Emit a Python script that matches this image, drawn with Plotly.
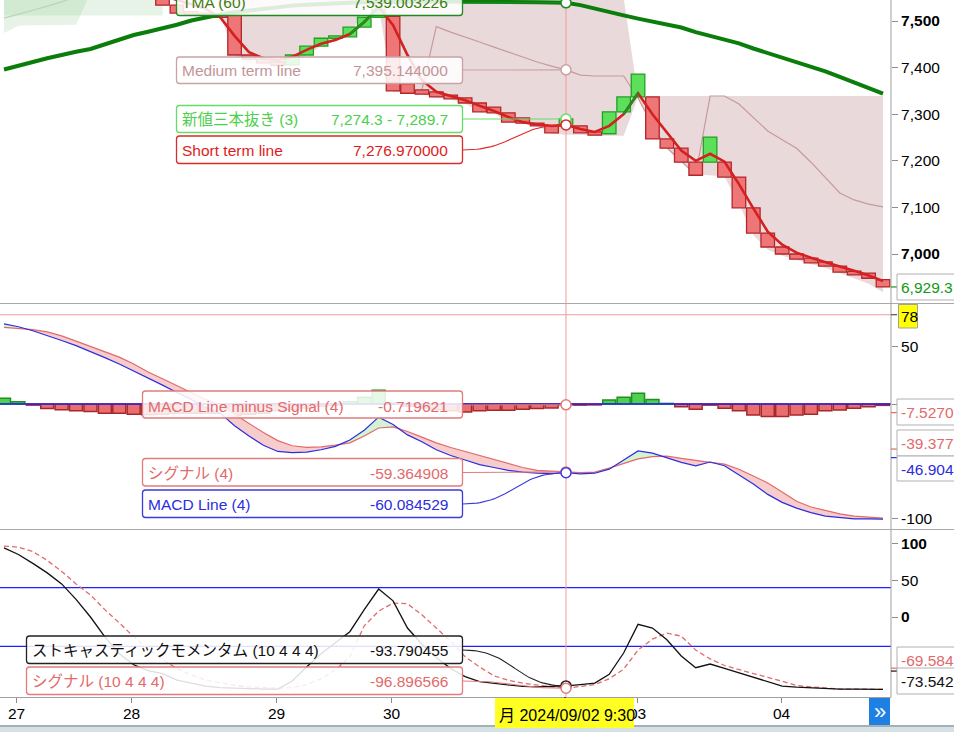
import numpy as np
import plotly.graph_objects as go

# ---------------- data ----------------
bar_index = list(range(62))
cursor_index = 39

x_tick_vals = [0.88, 8.85, 18.9, 26.9, 34.93, 43.95, 53.97]
x_tick_text = ["27", "28", "29", "30", "9月", "03", "04"]
cursor_label = "月 2024/09/02 9:30"

price_ticks = [7000, 7100, 7200, 7300, 7400, 7500]
price_tick_text = ["<b>7,000</b>", "7,100", "7,200", "7,300", "7,400", "<b>7,500</b>"]
macd_ticks = [-100, 0, 50]
macd_tick_text = ["-100", "<b>0</b>", "50"]
stoch_ticks = [0, 50, 100]
stoch_tick_text = ["<b>0</b>", "50", "<b>100</b>"]

# 新値三本抜き boxes (open -> close)
tlb_open = [7570, 7585, 7598, 7612, 7625, 7640, 7625, 7610, 7598, 7585,
            7572, 7560, 7534, 7520, 7517, 7514, 7512, 7427, 7418, 7412,
            7406, 7427, 7446, 7463, 7466, 7487, 7508, 7510, 7365, 7352,
            7348, 7341, 7335, 7324, 7315, 7303, 7292, 7281, 7275, 7274.3,
            7275, 7262, 7258, 7305, 7337, 7337, 7247, 7227, 7197, 7197,
            7197, 7165, 7099, 7045, 7015, 7000, 6991, 6983, 6974, 6963,
            6959, 6945]
tlb_close = [7585, 7598, 7612, 7625, 7640, 7652, 7610, 7598, 7585, 7572,
             7560, 7534, 7517, 7514, 7512, 7508, 7427, 7418, 7410, 7405,
             7427, 7446, 7463, 7468, 7487, 7508, 7525, 7350, 7345, 7343,
             7337, 7333, 7324, 7305, 7303, 7283, 7281, 7275, 7260, 7289.7,
             7260, 7255, 7305, 7337, 7386, 7247, 7227, 7197, 7169, 7251,
             7165, 7099, 7045, 7015, 7000, 6989, 6981, 6974, 6961, 6955,
             6948, 6929.3]

short_term_line = [7650, 7648, 7645, 7640, 7632, 7625, 7615, 7605, 7592, 7580,
                   7568, 7556, 7545, 7536, 7526, 7508, 7468, 7433, 7420, 7416,
                   7423, 7438, 7451, 7459, 7472, 7498, 7530, 7491, 7427, 7373,
                   7348, 7339, 7330, 7318, 7307, 7294, 7283, 7278, 7275, 7276.97,
                   7268, 7262, 7275, 7300, 7345, 7300, 7260, 7222, 7200, 7215,
                   7198, 7150, 7098, 7048, 7020, 7003, 6992, 6982, 6973, 6964,
                   6954, 6942]
short_term_up_from = [24, 43]
short_term_up_to = [26, 44]

tma_60 = [7396, 7403, 7412, 7420, 7428, 7434, 7440, 7450, 7459, 7470,
          7477, 7484, 7492, 7501, 7508, 7514, 7519, 7523, 7527, 7530,
          7533, 7535, 7537, 7538, 7539, 7540, 7541, 7541, 7542, 7542,
          7542, 7542, 7542, 7542, 7541, 7541, 7540, 7540, 7539.5, 7539.003226,
          7534, 7526, 7519, 7512, 7505, 7499, 7492, 7486, 7476, 7468,
          7460, 7452, 7441, 7431, 7422, 7413, 7402, 7392, 7380, 7368,
          7356, 7344]

medium_term_line = [7506, 7514, 7523, 7532, 7541, 7552, None, None, None, None,
                    None, None, None, None, None, None, None, None, None, None,
                    None, None, None, None, None, None, None, None, None, 7352,
                    7488, 7476, 7466, 7455, 7444, 7433, 7423, 7412, 7403, 7395.144,
                    7384, 7382, 7382, 7382, 7335, 7275, 7228, 7200, 7170, 7339,
                    7339, 7322, 7292, 7264, 7245, 7227, 7197, 7163, 7131, 7116,
                    7107, 7101]
medium_up_last = 5

green_band_index = [0, 1, 2, 3, 4, 5, 6, 7, 8, 9, 10, 11]
green_band_upper = [7600, 7600, 7600, 7600, 7600, 7600, 7600, 7600, 7600, 7600, 7600, 7600]
green_band_lower_a = [7512, 7512, 7512, 7512, 7512, 7512, 7512, 7512, 7512, 7512, 7512, 7512]
green_band_index_b = [0, 1, 2, 3, 4, 5, 6]
green_band_upper_b = [7600, 7600, 7600, 7600, 7600, 7600, 7600]
green_band_lower_b = [7474, 7490, 7491, 7491, 7491, 7492, 7560]

pink_band_index = list(range(14, 62))
pink_band_upper = [7600, 7600, 7600, 7600, 7600, 7600, 7600, 7600, 7600, 7600,
                   7600, 7600, 7600, 7600, 7600, 7600, 7600, 7600, 7600, 7600,
                   7600, 7600, 7600, 7600, 7600, 7600, 7600, 7600, 7600, 7550,
                   7339, 7339, 7339, 7339, 7339, 7339, 7339, 7339, 7339, 7339,
                   7339, 7339, 7339, 7339, 7339, 7339, 7339, 7339]
pink_band_lower = [7600, 7512, 7427, 7410, 7404, 7402, 7404, 7427, 7446, 7463,
                   7466, 7530, 7530, 7348, 7345, 7343, 7336, 7332, 7323, 7304,
                   7302, 7282, 7280, 7274, 7258, 7256, 7256, 7254, 7254, 7254,
                   7337, 7275, 7228, 7200, 7170, 7169, 7166, 7108, 7041, 7009,
                   6996, 6987, 6979, 6970, 6959, 6948, 6936, 6918]

macd_line = [70, 67.5, 64, 60, 55.5, 51, 46, 40.5, 35, 29,
             23, 16.5, 10, 4, -3, -8, -19, -28, -36, -41.5,
             -42.5, -42, -40, -37, -31.5, -23, -11.5, -18, -27, -33,
             -40, -45, -49, -53, -55.5, -58, -59.5, -60.5, -60.8, -60.084529,
             -61, -60.5, -57, -49, -41, -43, -47, -51, -54, -50.7,
             -54, -62, -70, -79, -86, -91, -95, -98, -99.5, -100.5,
             -100.5, -100.7]
macd_signal = [67, 66, 65, 63, 59.5, 55, 50.5, 46, 41, 35,
               28, 22, 16, 10, 4, -1, -9, -17, -25, -32,
               -36.5, -38, -37.5, -36, -34, -28, -21, -20, -24, -29,
               -34, -38, -41.5, -45, -49, -52.5, -55.5, -58, -59, -59.364908,
               -60, -59.5, -56, -52, -48, -46, -45.5, -47.5, -49.5, -51,
               -52.5, -57, -63, -69, -77, -85, -90, -93, -96, -98,
               -99, -99.7]
macd_hist = [5, 2, -1, -4, -5, -6, -6.5, -8, -8, -9,
             -9.5, -9, -8, -8, -8, -8, -10, -9, -8, -6,
             -5, -3.5, -2, -1, 2, 6, 12, 1, -2, -3.5,
             -5, -6, -7, -6, -5.5, -5.5, -4.5, -4, -3.5, -0.719621,
             -1, -0.8, 3.5, 6, 9.5, 4, 0.5, -2.3, -4.5, -1,
             -3.8, -6, -9.6, -11, -11, -9.6, -9, -6, -5.2, -3.8,
             -2.3, -1.2]
macd_crosshair_value = 78

stoch_momentum = [94, 85, 73, 60, 45, 24, 0, -27, -50, -65,
                  -73, -77, -86, -90, -94, -96, -97, -98, -98, -98,
                  -87, -68, -50, -35, -20, 10, 38, 22, -15, -37,
                  -55, -70, -81, -88, -90, -93, -94.5, -95, -94.5, -93.790455,
                  -92, -90, -78, -49, -10, -15, -31, -53, -69, -64,
                  -70, -76, -83, -89, -94, -95.5, -96.5, -97.5, -98, -98,
                  -98.5, -98.5]
stoch_signal = [96.5, 95, 89, 77, 62, 45, 30, 10, -8, -27,
                -44, -58, -70, -79, -86, -90, -93, -95, -96, -97,
                -96, -92, -84, -72, -54, -12, 8, 19, 18, 3,
                -15, -33, -54, -68, -80, -86, -90, -93, -95, -96.896566,
                -94, -92, -84, -71, -45, -30, -22, -26, -45, -57,
                -66, -72, -77, -82, -88, -93, -95, -97, -98, -98,
                -98.5, -98.5]
stoch_levels = [40, -40]

macd_side_text = ["-7.5270", "-39.377", "-46.904"]
macd_side_values = [-7.5270, -39.377, -46.904]
stoch_side_text = ["-69.584", "-73.542"]
stoch_side_values = [-69.584, -73.542]

# ---------------- geometry ----------------
W, H = 954, 732
PW, PH = 891, 697
XR = (-0.2776, 61.554)
PANEL_PX = {'y': (0, 303), 'y2': (304, 529), 'y3': (530, 697)}
PANEL_RANGE = {'y': (7545.06, 6894.85), 'y2': (87.41, -109.27), 'y3': (118.37, -108.84)}
FONT = "Liberation Sans, Arial, Noto Sans CJK JP, sans-serif"
JFONT = "Liberation Sans, Arial, Noto Sans CJK JP, sans-serif"

SALMON = '#e26a6a'
SALMON_B = '#e27c7c'
BLUE = '#2d2de0'
RED = '#d42020'


def X(px):
    return px / PW


def Y(py):
    return 1 - py / PH


def data_x(px):
    return XR[0] + px / PW * (XR[1] - XR[0])


def data_y(py, p):
    top, bot = PANEL_PX[p]
    rt, rb = PANEL_RANGE[p]
    return rt + (py - top) / (bot - top) * (rb - rt)


def val_py(v, p):
    top, bot = PANEL_PX[p]
    rt, rb = PANEL_RANGE[p]
    return top + (v - rt) / (rb - rt) * (bot - top)


fig = go.Figure()


def line_tr(x, y, p, color, width, dash=None, **kw):
    fig.add_trace(go.Scatter(x=x, y=y, xaxis='x', yaxis=p, mode='lines',
                             line=dict(color=color, width=width, dash=dash),
                             hoverinfo='skip', **kw))


# ---- top panel ----
line_tr(green_band_index, green_band_upper, 'y', 'rgba(0,0,0,0)', 0)
line_tr(green_band_index, green_band_lower_a, 'y', 'rgba(0,0,0,0)', 0,
        fill='tonexty', fillcolor='rgba(140,200,140,0.22)')
line_tr(green_band_index_b, green_band_upper_b, 'y', 'rgba(0,0,0,0)', 0)
line_tr(green_band_index_b, green_band_lower_b, 'y', 'rgba(0,0,0,0)', 0,
        fill='tonexty', fillcolor='rgba(140,200,140,0.22)')
line_tr(pink_band_index, pink_band_upper, 'y', 'rgba(0,0,0,0)', 0)
line_tr(pink_band_index, pink_band_lower, 'y', 'rgba(0,0,0,0)', 0,
        fill='tonexty', fillcolor='#e9d9db')

line_tr(bar_index[:medium_up_last + 1], medium_term_line[:medium_up_last + 1], 'y', '#b9d3b9', 1.2)
line_tr(bar_index[medium_up_last + 1:], medium_term_line[medium_up_last + 1:], 'y', '#c79a9d', 1.2)

HW = 0.47


def box_polys(indices):
    xs, ys = [], []
    for i in indices:
        o, c = tlb_open[i], tlb_close[i]
        xs += [i - HW, i + HW, i + HW, i - HW, i - HW, None]
        ys += [o, o, c, c, o, None]
    return xs, ys


red_idx = [i for i in bar_index if tlb_close[i] < tlb_open[i]]
green_idx = [i for i in bar_index if tlb_close[i] >= tlb_open[i]]
rx, ry = box_polys(red_idx)
gx, gy = box_polys(green_idx)
line_tr(rx, ry, 'y', '#b3262b', 1.3, fill='toself', fillcolor='#ef7676')
line_tr(gx, gy, 'y', '#23a023', 1.3, fill='toself', fillcolor='#5ce05c')

line_tr(bar_index, short_term_line, 'y', RED, 2.6)
for a, b in zip(short_term_up_from, short_term_up_to):
    line_tr(bar_index[a:b + 1], short_term_line[a:b + 1], 'y', '#1f8f1f', 2.6)

line_tr(bar_index, tma_60, 'y', '#0b7d0b', 4)

# ---- MACD panel ----
hist_colors = ['#4fd04f' if v > 0 else '#ea6e6e' for v in macd_hist]
hist_lines = ['#1f8f1f' if v > 0 else '#a5282c' for v in macd_hist]
fig.add_trace(go.Bar(x=bar_index, y=macd_hist, xaxis='x', yaxis='y2', width=0.9,
                     marker=dict(color=hist_colors, line=dict(color=hist_lines, width=1.5)),
                     hoverinfo='skip'))


def regions(xv, a, b):
    d = [ai - bi for ai, bi in zip(a, b)]
    xs, ys = [], []
    top, bot = [], []

    def flush():
        pts = top + bot[::-1]
        xs.extend([p[0] for p in pts] + [None])
        ys.extend([p[1] for p in pts] + [None])

    for i in range(len(xv)):
        if d[i] > 0:
            if not top and i > 0:
                t = d[i - 1] / (d[i - 1] - d[i])
                xc = xv[i - 1] + t * (xv[i] - xv[i - 1])
                yc = a[i - 1] + t * (a[i] - a[i - 1])
                top.append((xc, yc)); bot.append((xc, yc))
            top.append((xv[i], a[i])); bot.append((xv[i], b[i]))
        else:
            if top:
                t = d[i - 1] / (d[i - 1] - d[i])
                xc = xv[i - 1] + t * (xv[i] - xv[i - 1])
                yc = a[i - 1] + t * (a[i] - a[i - 1])
                top.append((xc, yc)); bot.append((xc, yc))
                flush()
                top, bot = [], []
    if top:
        flush()
    return xs, ys


px_, py_ = regions(bar_index, macd_signal, macd_line)
line_tr(px_, py_, 'y2', 'rgba(0,0,0,0)', 0, fill='toself', fillcolor='#f7cccc')
gx_, gy_ = regions(bar_index, macd_line, macd_signal)
line_tr(gx_, gy_, 'y2', 'rgba(0,0,0,0)', 0, fill='toself', fillcolor='#d2f4d2')
line_tr([XR[0], XR[1]], [0, 0], 'y2', '#2222ee', 1.5)
line_tr(bar_index, macd_signal, 'y2', SALMON, 1.2)
line_tr(bar_index, macd_line, 'y2', BLUE, 1.2)
line_tr([XR[0], XR[1]], [macd_crosshair_value, macd_crosshair_value], 'y2', '#f39a9a', 1)

# ---- stochastic panel ----
for lv in stoch_levels:
    line_tr([XR[0], XR[1]], [lv, lv], 'y3', '#2020ff', 1.1)
line_tr(bar_index, stoch_signal, 'y3', SALMON, 1.3, dash='5px,3px')
line_tr(bar_index, stoch_momentum, 'y3', '#111111', 1.3)

# ---- crosshair vertical ----
for p in ['y', 'y2', 'y3']:
    line_tr([cursor_index, cursor_index], [PANEL_RANGE[p][1], PANEL_RANGE[p][0]], p, '#f39a9a', 1)

c = cursor_index
tooltips = [
    dict(p='y', box=(176.5, -12, 462.5, 15.5), ty=2.5, lx=181, label="TMA (60)",
         value=f"{tma_60[c]:,.6f}", color='#3d7d12', border='#1f8a1f', cy=3, target=tma_60[c]),
    dict(p='y', box=(176.5, 57, 462.5, 83.5), ty=70.5, lx=181, label="Medium term line",
         value=f"{medium_term_line[c]:,.6f}", color='#c39498', border='#c9a2a5', cy=70, target=medium_term_line[c]),
    dict(p='y', box=(176.5, 105.5, 462.5, 132.5), ty=119.5, lx=181, label="新値三本抜き (3)",
         value=f"{min(tlb_open[c], tlb_close[c]):,.1f} - {max(tlb_open[c], tlb_close[c]):,.1f}",
         color='#4ccf4c', border='#66dd66', cy=119, target=max(tlb_open[c], tlb_close[c])),
    dict(p='y', box=(176.5, 136, 462.5, 163.5), ty=150.5, lx=181, label="Short term line",
         value=f"{short_term_line[c]:,.6f}", color='#dd1c1c', border='#dd2a2a', cy=150, target=short_term_line[c]),
    dict(p='y2', box=(142.5, 391, 462.5, 418), ty=406, lx=147, label="MACD Line minus Signal (4)",
         value=f"{macd_hist[c]:.6f}", color=SALMON, border=SALMON_B, cy=405, target=macd_hist[c]),
    dict(p='y2', box=(142.5, 458.5, 462.5, 486), ty=473, lx=147, label="シグナル (4)",
         value=f"{macd_signal[c]:.6f}", color=SALMON, border=SALMON_B, cy=472.5, target=macd_signal[c]),
    dict(p='y2', box=(142.5, 490, 462.5, 517.5), ty=504, lx=147, label="MACD Line (4)",
         value=f"{macd_line[c]:.6f}", color=BLUE, border='#3b3bdd', cy=504, target=macd_line[c]),
    dict(p='y3', box=(26.5, 636, 462.5, 663.5), ty=650.5, lx=31, label="ストキャスティックモメンタム (10 4 4 4)",
         value=f"{stoch_momentum[c]:.6f}", color='#111111', border='#222222', cy=650, target=stoch_momentum[c]),
    dict(p='y3', box=(26.5, 667, 462.5, 694.5), ty=681.5, lx=31, label="シグナル (10 4 4 4)",
         value=f"{stoch_signal[c]:.6f}", color=SALMON, border=SALMON_B, cy=681, target=stoch_signal[c]),
]

# connectors
t = np.linspace(0, 1, 40)
for tp in tooltips:
    x0, y0 = data_x(462.5), data_y(tp['cy'], tp['p'])
    x1, y1 = cursor_index, tp['target']
    xm = (x0 + x1) / 2
    bx = (1 - t) ** 3 * x0 + 3 * (1 - t) ** 2 * t * xm + 3 * (1 - t) * t ** 2 * xm + t ** 3 * x1
    by = (1 - t) ** 3 * y0 + 3 * (1 - t) ** 2 * t * y0 + 3 * (1 - t) * t ** 2 * y1 + t ** 3 * y1
    line_tr(list(bx), list(by), tp['p'], tp['border'], 1.1)
# circles
for tp in tooltips:
    fig.add_trace(go.Scatter(x=[cursor_index], y=[tp['target']], xaxis='x', yaxis=tp['p'],
                             mode='markers', hoverinfo='skip',
                             marker=dict(size=10, color='white', line=dict(color=tp['border'], width=1.5))))

# ---------------- shapes & annotations ----------------
shapes = []
annots = []


def rbox(x0, y0, x1, y1, line, fill, r=3, lw=1.3):
    path = (f"M {X(x0 + r)},{Y(y0)} L {X(x1 - r)},{Y(y0)} Q {X(x1)},{Y(y0)} {X(x1)},{Y(y0 + r)} "
            f"L {X(x1)},{Y(y1 - r)} Q {X(x1)},{Y(y1)} {X(x1 - r)},{Y(y1)} "
            f"L {X(x0 + r)},{Y(y1)} Q {X(x0)},{Y(y1)} {X(x0)},{Y(y1 - r)} "
            f"L {X(x0)},{Y(y0 + r)} Q {X(x0)},{Y(y0)} {X(x0 + r)},{Y(y0)} Z")
    shapes.append(dict(type='path', xref='paper', yref='paper', path=path,
                       line=dict(color=line, width=lw), fillcolor=fill, layer='above'))


def rect(x0, y0, x1, y1, fill, line=None, lw=1):
    shapes.append(dict(type='rect', xref='paper', yref='paper', x0=X(x0), x1=X(x1), y0=Y(y0), y1=Y(y1),
                       fillcolor=fill, line=dict(color=line or fill, width=lw if line else 0), layer='above'))


def hline(x0, x1, y, color, w=1):
    shapes.append(dict(type='line', xref='paper', yref='paper', x0=X(x0), x1=X(x1), y0=Y(y), y1=Y(y),
                       line=dict(color=color, width=w), layer='above'))


def vline(x, y0, y1, color, w=1):
    shapes.append(dict(type='line', xref='paper', yref='paper', x0=X(x), x1=X(x), y0=Y(y0), y1=Y(y1),
                       line=dict(color=color, width=w), layer='above'))


def text(x, y, s, color, size=15.5, anchor='left', family=FONT):
    annots.append(dict(xref='paper', yref='paper', x=X(x), y=Y(y), text=s, showarrow=False,
                       xanchor=anchor, yanchor='middle', font=dict(family=family, size=size, color=color),
                       borderpad=0))


# x tick labels (placed as annotations on the data x scale)
for tv, tt in zip(x_tick_vals, x_tick_text):
    annots.append(dict(xref='x', yref='paper', x=tv, y=Y(713), text=tt, showarrow=False,
                       xanchor='center', yanchor='middle',
                       font=dict(family=JFONT, size=15.5, color='#000000'), borderpad=0))

for tp in tooltips:
    x0, y0, x1, y1 = tp['box']
    rbox(x0, y0, x1, y1, tp['border'], 'rgba(255,255,255,0.86)')
    text(tp['lx'], tp['ty'], tp['label'], tp['color'], family=JFONT)
    text(449, tp['ty'], tp['value'], tp['color'], anchor='right')

# panel separators & frame
hline(0, 954, 303.5, '#a9a9a9', 1)
hline(0, 954, 529.5, '#a9a9a9', 1)
vline(891, 0, 697, '#a0a0a0', 1)

# right-side value labels
last_py = val_py(tlb_close[-1], 'y')
hline(891, 897, last_py, '#1a9a1a', 1.2)
rect(897, 274, 957, 300, 'white', '#b0b0b0')
text(900, 287.5, f"{tlb_close[-1]:,.1f}", '#129912')

xh_py = val_py(macd_crosshair_value, 'y2')
hline(891, 897, xh_py, '#333333', 1)
rect(898.5, 304.5, 917.5, 328, '#ffff00', '#a0a0a0')
text(900, 316.5, f"{macd_crosshair_value}", '#000000')

macd_boxes = [(399, 425), (430, 456), (456, 481)]
macd_cols = [SALMON, SALMON, BLUE]
for s, v, (b0, b1), col in zip(macd_side_text, macd_side_values, macd_boxes, macd_cols):
    hline(891, 897, val_py(v, 'y2'), col, 1.2)
    rect(897, b0, 957, b1, 'white', '#b0b0b0')
    text(900, (b0 + b1) / 2 + 0.5, s, col)

stoch_boxes = [(647, 672), (668, 694)]
stoch_cols = [SALMON, '#111111']
for s, v, (b0, b1), col in zip(stoch_side_text, stoch_side_values, stoch_boxes, stoch_cols):
    hline(891, 897, val_py(v, 'y3'), col, 1.2)
    rect(897, b0, 957, b1, 'white', '#b0b0b0')
    text(900, (b0 + b1) / 2 + 0.5, s, col)

# cursor tick + date label (drawn as annotations so it covers the tick labels)
vline(565, 697, 703, '#222222', 1.5)
annots.append(dict(xref='paper', yref='paper', x=X(495), y=Y(697.5), xanchor='left', yanchor='top',
                   text=' ', showarrow=False, width=139, height=29.5, bgcolor='#ffff22',
                   borderpad=0, borderwidth=0, font=dict(size=10)))
text(498, 715.5, cursor_label, '#000000', size=16, family=JFONT)

# scroll button
rect(869, 698, 890, 726, '#1f80e3')
text(879.5, 711, "»", '#ffffff', size=22, anchor='center')

# bottom strip
rect(0, 726, 954, 733, '#d4e2e6')
hline(0, 954, 726, '#a6afb3', 2)

yd = {}
for p in ['y', 'y2', 'y3']:
    top, bot = PANEL_PX[p]
    yd[p] = [1 - bot / PH, 1 - top / PH]

axis_common = dict(side='right', anchor='x', ticks='outside', ticklen=6, tickcolor='#8c8c8c',
                   showgrid=False, zeroline=False, showline=False, fixedrange=True,
                   tickfont=dict(family=FONT, size=15.5, color='#000000'))

fig.update_layout(
    width=W, height=H, autosize=False,
    margin=dict(l=0, r=W - PW, t=0, b=H - PH, pad=0),
    paper_bgcolor='white', plot_bgcolor='white',
    showlegend=False, hovermode=False, barmode='overlay',
    xaxis=dict(domain=[0, 1], range=list(XR), anchor='y3', tickvals=x_tick_vals, ticktext=x_tick_text,
               showticklabels=False,
               ticks='outside', ticklen=5, tickcolor='#8c8c8c', showgrid=False, zeroline=False,
               showline=True, linecolor='#a0a0a0', linewidth=1),
    yaxis=dict(domain=yd['y'], range=[PANEL_RANGE['y'][1], PANEL_RANGE['y'][0]],
               tickvals=price_ticks, ticktext=price_tick_text, **axis_common),
    yaxis2=dict(domain=yd['y2'], range=[PANEL_RANGE['y2'][1], PANEL_RANGE['y2'][0]],
                tickvals=macd_ticks, ticktext=macd_tick_text, **axis_common),
    yaxis3=dict(domain=yd['y3'], range=[PANEL_RANGE['y3'][1], PANEL_RANGE['y3'][0]],
                tickvals=stoch_ticks, ticktext=stoch_tick_text, **axis_common),
    shapes=shapes, annotations=annots,
)

fig.write_html("out.html", config={'displayModeBar': False},
               post_script="document.body.style.margin='0px';document.body.style.padding='0px';")
